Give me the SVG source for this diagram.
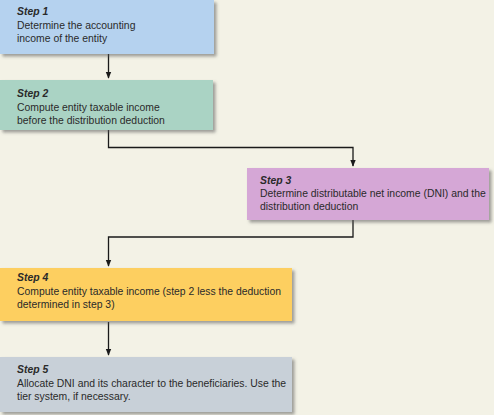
<svg xmlns="http://www.w3.org/2000/svg" width="494" height="415" viewBox="0 0 494 415">
<defs>
<filter id="sh" x="-5%" y="-10%" width="115%" height="130%">
<feDropShadow dx="2.5" dy="2.5" stdDeviation="1.5" flood-color="#555" flood-opacity="0.55"/>
</filter>
<marker id="ah" viewBox="0 0 10 10" refX="9" refY="5" markerWidth="7" markerHeight="7" markerUnits="userSpaceOnUse" orient="auto">
<path d="M0,1 L10,5 L0,9 Z" fill="#1a1a1a"/>
</marker>
</defs>
<style>
.t{font-family:"Liberation Sans",Arial,sans-serif;font-size:10.4px;fill:#2a2a2a;}
.h{font-weight:bold;font-style:italic;}
.c{fill:none;stroke:#1a1a1a;stroke-width:1.3;marker-end:url(#ah);}
</style>
<rect width="494" height="415" fill="#f3f2e6"/>
<g id="connectors">
<path class="c" d="M108.5,54 V78"/>
<path class="c" d="M108.5,130 V147.5 H353 V166"/>
<path class="c" d="M353,220 V237 H108.5 V266"/>
<path class="c" d="M108.5,322 V355"/>
</g>
<g id="step1">
<rect x="0" y="0" width="214" height="54" fill="#b5d2ef" filter="url(#sh)"/>
<text class="t h" x="17" y="15">Step 1</text>
<text class="t" x="17" y="28.5">Determine the accounting</text>
<text class="t" x="17" y="41.5">income of the entity</text>
</g>
<g id="step2">
<rect x="0" y="80" width="213" height="50" fill="#aad3c4" filter="url(#sh)"/>
<text class="t h" x="17" y="97">Step 2</text>
<text class="t" x="17" y="110.5">Compute entity taxable income</text>
<text class="t" x="17" y="123.5">before the distribution deduction</text>
</g>
<g id="step3">
<rect x="247" y="168" width="242" height="52" fill="#d5a7d6" filter="url(#sh)"/>
<text class="t h" x="260" y="184">Step 3</text>
<text class="t" x="260" y="197">Determine distributable net income (DNI) and the</text>
<text class="t" x="260" y="210">distribution deduction</text>
</g>
<g id="step4">
<rect x="0" y="268" width="292" height="53" fill="#fdcf60" filter="url(#sh)"/>
<text class="t h" x="17" y="281">Step 4</text>
<text class="t" x="17" y="295">Compute entity taxable income (step 2 less the deduction</text>
<text class="t" x="17" y="308">determined in step 3)</text>
</g>
<g id="step5">
<rect x="0" y="357" width="292" height="55" fill="#c8d0d8" filter="url(#sh)"/>
<text class="t h" x="17" y="373">Step 5</text>
<text class="t" x="17" y="387">Allocate DNI and its character to the beneficiaries. Use the</text>
<text class="t" x="17" y="400">tier system, if necessary.</text>
</g>
</svg>
